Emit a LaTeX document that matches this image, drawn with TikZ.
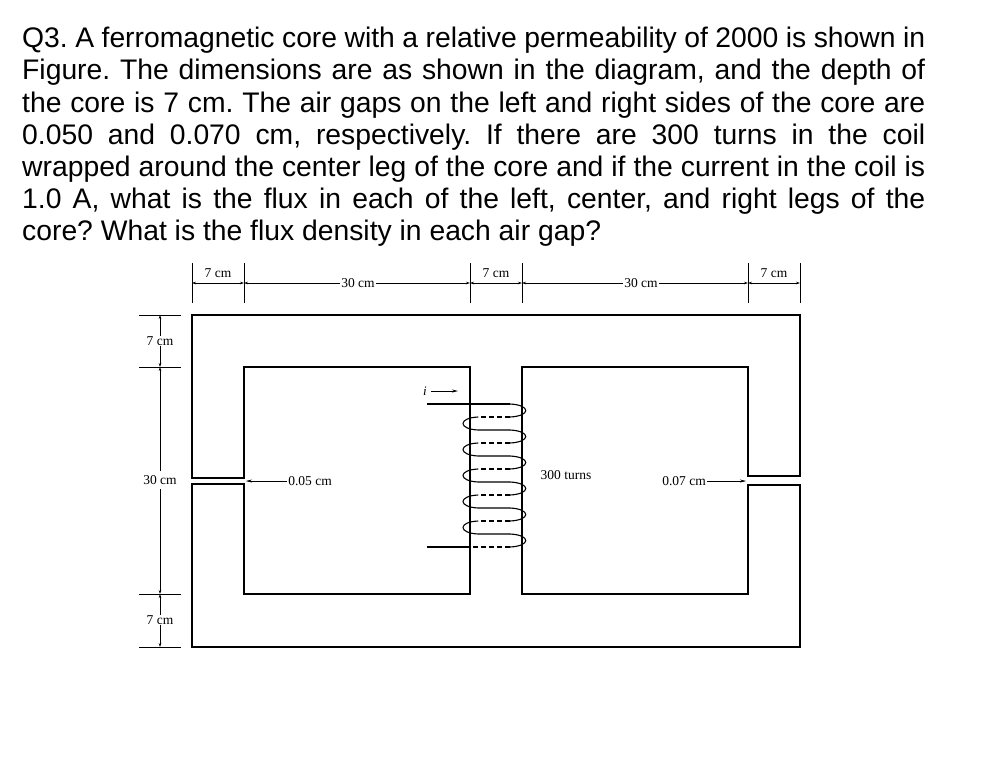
\documentclass[tikz,border=0pt]{standalone}
\usepackage{fontspec}
\setmainfont{Liberation Serif}
\newfontfamily\qfont{Liberation Sans}
\usetikzlibrary{arrows.meta}
\begin{document}
\frenchspacing
\begin{tikzpicture}[x=1pt,y=-1pt,
  core/.style={line width=1.6pt},
  dim/.style={line width=0.5pt},
  dimarr/.style={line width=0.5pt,{Stealth[length=4pt,width=2.5pt]}-{Stealth[length=4pt,width=2.5pt]}},
  lbl/.style={font=\fontsize{13.5}{13.5}\selectfont,inner sep=1pt},
  coil/.style={line width=1.1pt},
  coilb/.style={line width=1.1pt,dash pattern=on 5pt off 3pt}]
\useasboundingbox (0,0) rectangle (990,758);
% question text
\node[anchor=north west,inner sep=0pt,text width=903pt,align=justify,
  font=\qfont\fontsize{28.3}{32.2}\selectfont] (q) at (22,27)
{Q3. A ferromagnetic core with a relative permeability of 2000 is shown in\linebreak Figure. The dimensions are as shown in the diagram, and the depth of\linebreak the core is 7 cm. The air gaps on the left and right sides of the core are\linebreak 0.050 and 0.070 cm, respectively. If there are 300 turns in the coil\linebreak wrapped around the center leg of the core and if the current in the coil is\linebreak 1.0 A, what is the flux in each of the left, center, and right legs of the\linebreak core? What is the flux density in each air gap?};
% core outline
\draw[core] (192,478) -- (192,315) -- (800,315) -- (800,476) -- (748,476) -- (748,367) -- (522,367) -- (522,594) -- (748,594) -- (748,485) -- (800,485) -- (800,647) -- (192,647) -- (192,484) -- (244,484) -- (244,594) -- (470,594) -- (470,367) -- (244,367) -- (244,478) -- cycle;
% top dims
\foreach \x in {192,244,470,522,748,800} \draw[line width=1pt] (\x,263) -- (\x,303);
\coordinate (t1) at (192,283); \coordinate (t2) at (244,283); \coordinate (t3) at (470,283);
\coordinate (t4) at (522,283); \coordinate (t5) at (748,283); \coordinate (t6) at (800,283);
\draw[dimarr] (t1) -- (t2); \draw[dimarr] (t2) -- (t3); \draw[dimarr] (t3) -- (t4);
\draw[dimarr] (t4) -- (t5); \draw[dimarr] (t5) -- (t6);
\node[lbl] (d1) at (218,273) {7 cm};
\node[lbl,fill=white] (d2) at (358,283) {30 cm};
\node[lbl] (d3) at (496,273) {7 cm};
\node[lbl,fill=white] (d4) at (641,283) {30 cm};
\node[lbl] (d5) at (774,273) {7 cm};
% left dims
\foreach \y in {315,367,594,647} \draw[line width=1pt] (139,\y) -- (181,\y);
\coordinate (l1) at (160,315); \coordinate (l2) at (160,367); \coordinate (l3) at (160,594); \coordinate (l4) at (160,647);
\draw[dimarr] (l1) -- (l2); \draw[dimarr] (l2) -- (l3); \draw[dimarr] (l3) -- (l4);
\node[lbl,fill=white] (e1) at (160,341) {7 cm};
\node[lbl,fill=white,inner ysep=4pt] (e2) at (160,480) {30 cm};
\node[lbl,fill=white] (e3) at (160,620) {7 cm};
% gap labels
\node[lbl] (g1) at (310,481) {0.05 cm};
\coordinate (g1t) at (246,481);
\draw[dim,-{Stealth[length=6pt,width=3pt]}] (g1.west) -- (g1t);
\node[lbl] (g2) at (684,481) {0.07 cm};
\coordinate (g2t) at (746,481);
\draw[dim,-{Stealth[length=6pt,width=3pt]}] (g2.east) -- (g2t);
\node[lbl] (n) at (566,475) {300 turns};
% current
\node[lbl,font=\itshape\fontsize{13}{13}\selectfont] (i) at (425,391) {i};
\coordinate (ia) at (458,391);
\draw[line width=0.8pt,-{Stealth[length=6pt,width=3pt]}] (i.east) ++(3,0) -- (ia);
% coil
\draw[coil] (427,404) -- (510,404);
\foreach \k in {0,...,5}{
  \pgfmathsetmacro{\yy}{404+26*\k}
  \draw[coil] (510,\yy) .. controls (531,\yy+1) and (531,\yy+12) .. (510,\yy+13);
  \ifnum\k<5
    \draw[coilb] (510,\yy+13) -- (478,\yy+13);
    \draw[coil] (478,\yy+13) .. controls (458,\yy+14) and (458,\yy+25) .. (478,\yy+26) -- (510,\yy+26);
  \else
    \draw[coilb] (510,\yy+13) -- (470,\yy+13);
    \draw[coil] (470,\yy+13) -- (427,\yy+13);
  \fi
}
\end{tikzpicture}
\end{document}
